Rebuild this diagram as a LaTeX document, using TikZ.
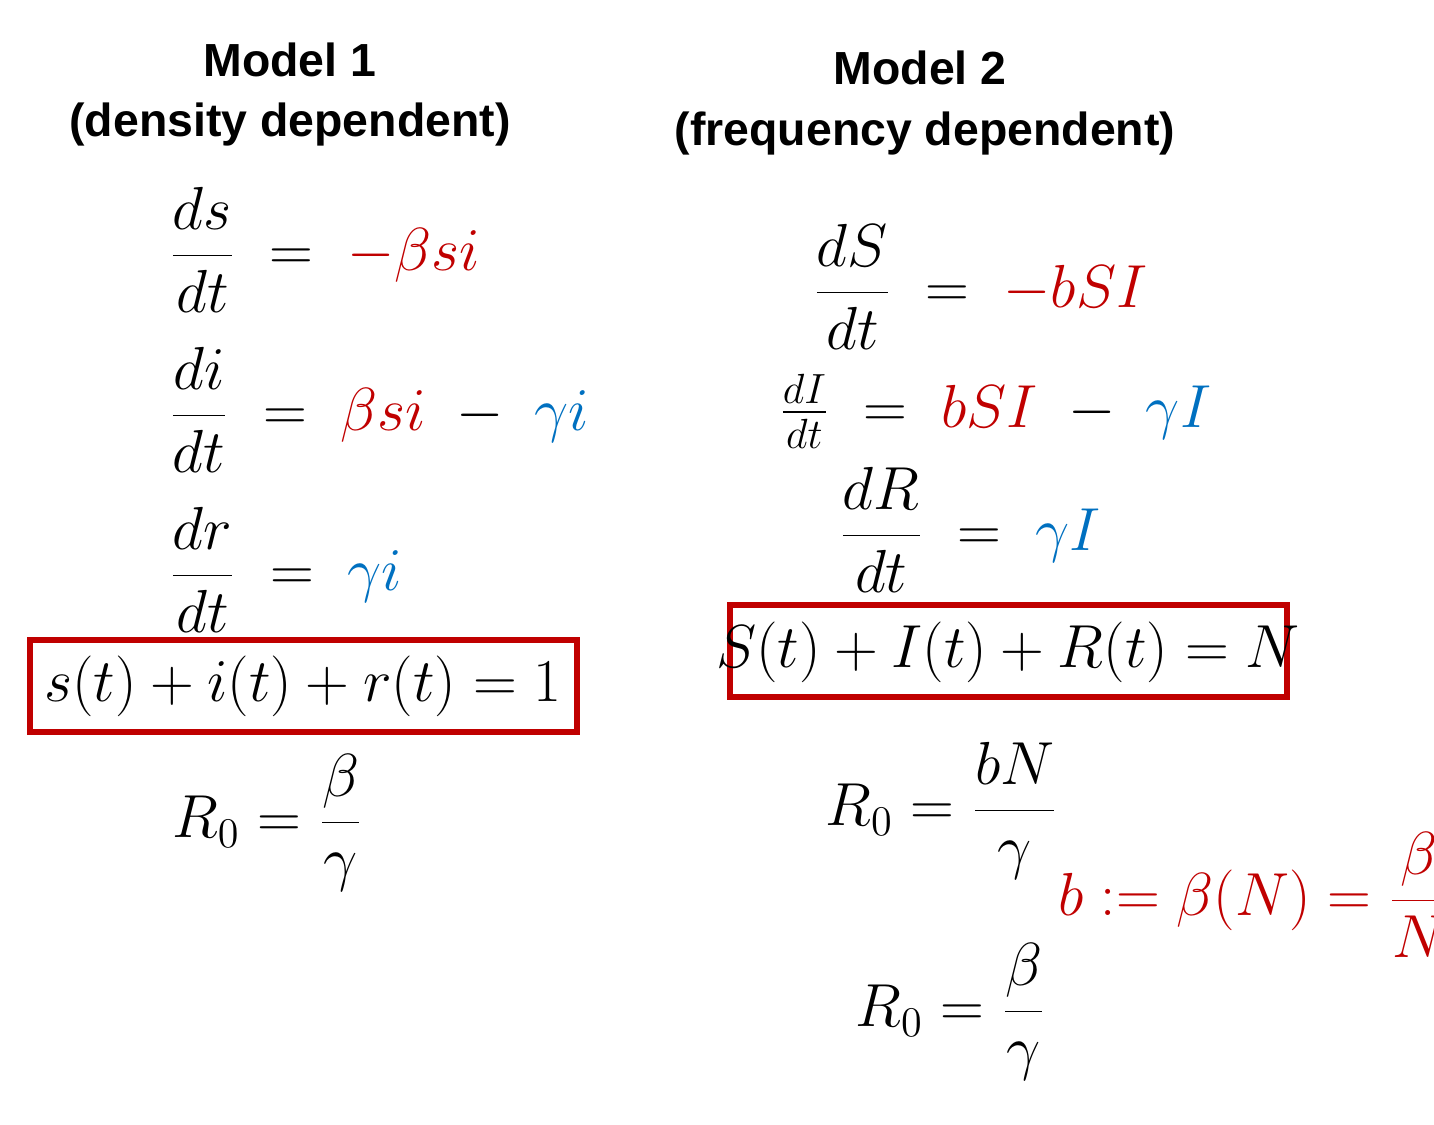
\documentclass[tikz,border=0pt]{standalone}
\usepackage{fontspec}
\newfontfamily\headfont{Liberation Sans}
\definecolor{rd}{HTML}{C00000}
\definecolor{bl}{HTML}{0070C0}
\begin{document}
\begin{tikzpicture}[x=0.01cm,y=-0.01cm,
  head/.style={font=\headfont\bfseries\fontsize{13.2}{16}\selectfont,inner sep=0pt},
  eq/.style={font=\fontsize{18.3}{22}\selectfont,inner sep=0pt,anchor=west},
  box/.style={draw=rd,line width=1.6pt}]
\useasboundingbox (0,0) rectangle (1434,1125);
\node[head] (h1a) at (290,60) {Model 1};
\node[head] (h1b) at (290,125) {(density dependent)};
\node[head] (h2a) at (920,68) {Model 2};
\node[head] (h2b) at (925,134) {(frequency dependent)};
\node[eq] (e1) at (168,250) {$\displaystyle\frac{ds}{dt}\;=\;\color{rd}-\beta si$};
\node[eq] (e2) at (168,410) {$\displaystyle\frac{di}{dt}\;=\;{\color{rd}\beta si}\;-\;{\color{bl}\gamma i}$};
\node[eq] (e3) at (168,570) {$\displaystyle\frac{dr}{dt}\;=\;\color{bl}\gamma i$};
\node[box,inner sep=0pt,minimum width=5.47cm,minimum height=0.92cm] (b1) at (303.5,686) {};
\node[eq,anchor=center] (e4) at (303,686) {$s(t)+i(t)+r(t)=1$};
\node[eq] (e5) at (172,823) {$\displaystyle R_0=\frac{\beta}{\gamma}$};
\node[eq] (f1) at (812,287) {$\displaystyle\frac{dS}{dt}\;=\;\color{rd}-bSI$};
\node[eq] (f2) at (778,411) {$\textstyle\frac{dI}{dt}\;=\;{\color{rd}bSI}\;-\;{\color{bl}\gamma I}$};
\node[eq] (f3) at (838,530) {$\displaystyle\frac{dR}{dt}\;=\;\color{bl}\gamma I$};
\node[box,inner sep=0pt,minimum width=5.57cm,minimum height=0.92cm] (b2) at (1008.5,651) {};
\node[eq,anchor=center,font=\fontsize{17.2}{21}\selectfont] (f4) at (1008,652) {$S(t)+I(t)+R(t)=N$};
\node[eq] (f5) at (825,811) {$\displaystyle R_0=\frac{bN}{\gamma}$};
\node[eq,font=\fontsize{16.5}{20}\selectfont] (f6) at (1058,895) {$\color{rd}\displaystyle b\mathrel{:=}\beta(N)=\frac{\beta}{N}$};
\node[eq] (f7) at (855,1012) {$\displaystyle R_0=\frac{\beta}{\gamma}$};
\end{tikzpicture}
\end{document}
